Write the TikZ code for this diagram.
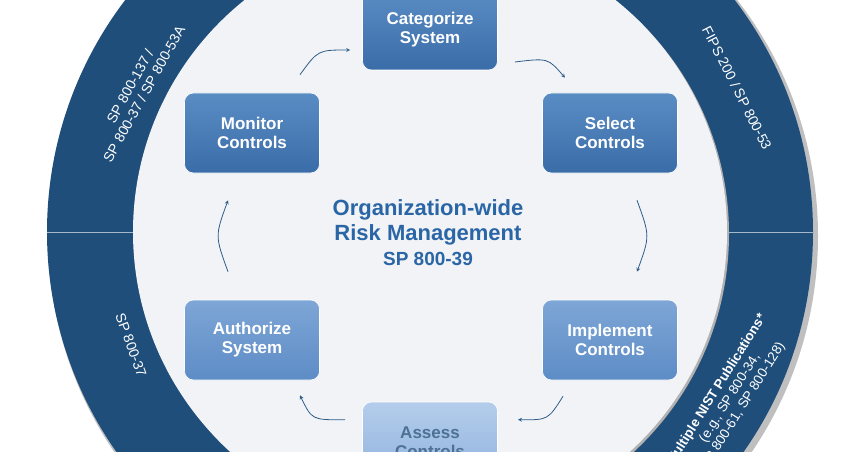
\documentclass[tikz,border=0pt]{standalone}
\usepackage{fontspec}
\setmainfont{Liberation Sans}
\usetikzlibrary{calc}
\definecolor{ring}{HTML}{1F4E7B}
\definecolor{inner}{HTML}{F1F3F6}
\definecolor{title}{HTML}{2A66A6}
\definecolor{arr}{HTML}{2E5C8A}
\definecolor{bxA}{HTML}{5A8CC4}
\definecolor{bxAb}{HTML}{3A6CA8}
\definecolor{bxB}{HTML}{7EA6D6}
\definecolor{bxBb}{HTML}{5D8CC6}
\definecolor{bxC}{HTML}{B4CDEB}
\definecolor{bxCb}{HTML}{8FB2DE}
\begin{document}
\begin{tikzpicture}[x=1pt,y=-1pt,
  box/.style={rounded corners=9pt,minimum width=135pt,minimum height=80pt,align=center,
    text=white,font=\bfseries\fontsize{17}{19}\selectfont,draw=white,line width=0.6pt},
  dark/.style={box,top color=bxA,bottom color=bxAb},
  mid/.style={box,top color=bxB,bottom color=bxBb},
  pale/.style={box,top color=bxC,bottom color=bxCb,text=ring!80},
  cyc/.style={->,>=stealth,draw=arr,line width=0.8pt},
  ringtxt/.style={text=white,font=\fontsize{14}{16}\selectfont,align=center}]
\useasboundingbox (0,0) rectangle (860,452);
\fill[white] (0,0) rectangle (860,452);
\begin{scope}
\clip (0,0) rectangle (860,452);
\fill[black!25] (433,236) circle (385);
\fill[ring] (430,232) circle (383);
\fill[black!30] (432,234) circle (297);
\fill[inner] (430,232) circle (297);
\draw[white!60!ring,line width=0.8pt] (47,232) -- (133,232) (727,232) -- (813,232);
\node[ringtxt,rotate=61] (rtl) at (137,90) {SP 800-137 /\\SP 800-37 / SP 800-53A};
\node[ringtxt,rotate=-63] (rtr) at (737,88) {FIPS 200 / SP 800-53};
\node[ringtxt,rotate=-70] (rbl) at (131,345) {SP 800-37};
\node[ringtxt,rotate=58,font=\fontsize{13.5}{15.5}\selectfont] (rbr) at (730,398) {\bfseries Multiple NIST Publications*\\(e.g., SP 800-34,\\SP 800-61, SP 800-128)};
\node[dark] (cat) at (430,30) {Categorize\\System};
\node[dark] (sel) at (610,133) {Select\\Controls};
\node[dark] (mon) at (252,133) {Monitor\\Controls};
\node[mid] (imp) at (610,340) {Implement\\Controls};
\node[mid] (aut) at (252,340) {Authorize\\System};
\node[pale] (ass) at (430,442) {Assess\\Controls};
\node[align=center,text=title,font=\bfseries\fontsize{22}{25}\selectfont] (ctr) at (428,233)
  {Organization-wide\\Risk Management\\{\fontsize{19}{22}\selectfont SP 800-39}};
\draw[cyc] ($(cat.east)+(17,32)$) .. controls (548,58) .. ($(sel.north)+(-45,-15)$);
\draw[cyc] ($(sel.south)+(27,27)$) .. controls (650,236) .. ($(imp.north)+(27,-28)$);
\draw[cyc] ($(imp.south)+(-47,16)$) .. controls (548,420) .. ($(ass.north)+(88,18)$);
\draw[cyc] ($(ass.north)+(-85,18)$) .. controls (312,420) .. ($(aut.south)+(48,15)$);
\draw[cyc] ($(aut.north)+(-24,-28)$) .. controls (215,236) .. ($(mon.south)+(-24,27)$);
\draw[cyc] ($(mon.north)+(48,-18)$) .. controls (318,50) .. ($(cat.west)+(-12,20)$);
\end{scope}
\end{tikzpicture}
\end{document}
